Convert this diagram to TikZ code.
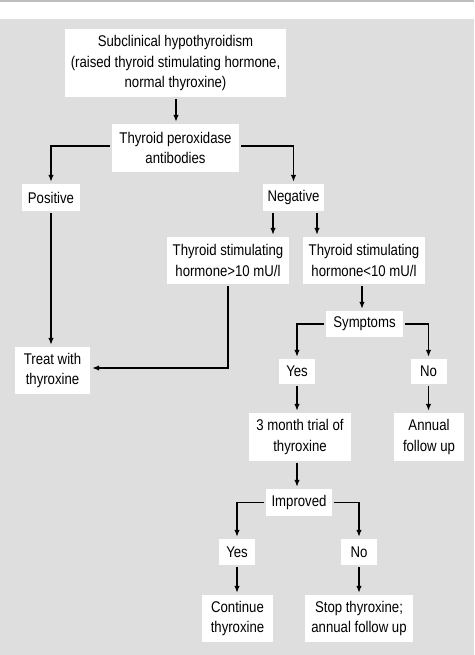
\documentclass[tikz,border=0pt]{standalone}
\usepackage{fontspec}
\setmainfont[FakeStretch=0.85]{Liberation Sans}
\usetikzlibrary{arrows.meta}
\definecolor{bggray}{RGB}{221,222,221}
\definecolor{bargray}{RGB}{190,190,190}
\begin{document}
\begin{tikzpicture}[x=1pt,y=-1pt,
  box/.style={fill=white, inner sep=0pt, align=center, font=\fontsize{15.5}{20.5}\selectfont},
  arr/.style={line width=1.3pt, -{Latex[length=7pt,width=5.5pt]}, shorten <=2pt, shorten >=2pt}]
\useasboundingbox (0,0) rectangle (474,655);
\fill[white] (0,0) rectangle (474,655);
\fill[bargray] (0,0) rectangle (474,2);
\fill[bggray] (0,19) rectangle (474,655);

\node[box, minimum width=221pt, minimum height=68pt] (b1) at (175.5,63) {Subclinical hypothyroidism\\(raised thyroid stimulating hormone,\\normal thyroxine)};
\node[box, minimum width=127pt, minimum height=48pt] (b2) at (175.5,148) {Thyroid peroxidase\\antibodies};
\node[box, minimum width=58pt, minimum height=27pt] (pos) at (51,197.5) {Positive};
\node[box, minimum width=61pt, minimum height=27pt] (neg) at (293.5,197.5) {Negative};
\node[box, minimum width=122pt, minimum height=47pt] (hi) at (228,260.5) {Thyroid stimulating\\hormone>10 mU/l};
\node[box, minimum width=122pt, minimum height=47pt] (lo) at (364,260.5) {Thyroid stimulating\\hormone<10 mU/l};
\node[box, minimum width=75pt, minimum height=47pt] (treat) at (52.5,370.5) {Treat with\\thyroxine};
\node[box, minimum width=77pt, minimum height=26pt] (symp) at (364.5,324) {Symptoms};
\node[box, minimum width=36pt, minimum height=25pt] (yes1) at (297,371.5) {Yes};
\node[box, minimum width=36pt, minimum height=25pt] (no1) at (428.5,371.5) {No};
\node[box, minimum width=102pt, minimum height=48pt] (trial) at (300,437) {3 month trial of\\thyroxine};
\node[box, minimum width=70pt, minimum height=48pt] (annual) at (429,437) {Annual\\follow up};
\node[box, minimum width=66pt, minimum height=27pt] (impr) at (299,502.5) {Improved};
\node[box, minimum width=36pt, minimum height=26pt] (yes2) at (237,552) {Yes};
\node[box, minimum width=36pt, minimum height=26pt] (no2) at (359,552) {No};
\node[box, minimum width=71pt, minimum height=47pt] (cont) at (237.5,618.5) {Continue\\thyroxine};
\node[box, minimum width=108pt, minimum height=47pt] (stop) at (359,618.5) {Stop thyroxine;\\annual follow up};

\draw[arr] ([xshift=0.5pt]b1.south) -- ([xshift=0.5pt]b1.south |- b2.north);
\draw[arr] ([yshift=2pt]b2.west) -| (pos.north);
\draw[arr] ([yshift=2pt]b2.east) -| (neg.north);
\draw[arr] ([xshift=-20.5pt]neg.south) -- ([xshift=-20.5pt]neg.south |- hi.north);
\draw[arr] ([xshift=23.5pt]neg.south) -- ([xshift=23.5pt]neg.south |- lo.north);
\draw[arr] (pos.south) -- (pos.south |- treat.north);
\draw[arr] (hi.south) |- ([yshift=2.5pt]treat.east);
\draw[arr] ([xshift=-2pt]lo.south) -- ([xshift=-2pt]lo.south |- symp.north);
\draw[arr] (symp.west) -| (yes1.north);
\draw[arr] (symp.east) -| (no1.north);
\draw[arr] (yes1.south) -- (yes1.south |- trial.north);
\draw[arr] (no1.south) -- (no1.south |- annual.north);
\draw[arr] (yes1.south |- trial.south) -- (yes1.south |- impr.north);
\draw[arr] (impr.west) -| (yes2.north);
\draw[arr] (impr.east) -| (no2.north);
\draw[arr] (yes2.south) -- (yes2.south |- cont.north);
\draw[arr] (no2.south) -- (no2.south |- stop.north);
\end{tikzpicture}
\end{document}
